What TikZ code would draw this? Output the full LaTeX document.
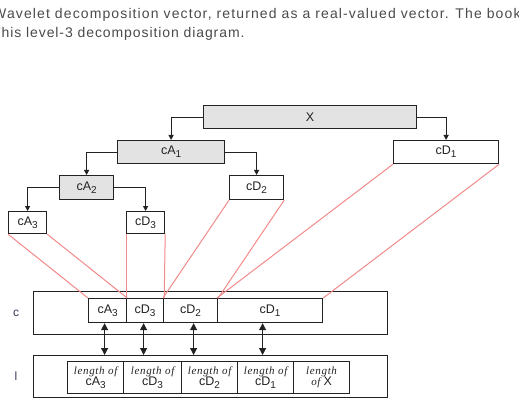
\documentclass[tikz,border=0pt]{standalone}
\usepackage{fontspec}
\setmainfont{Liberation Sans}
\newfontfamily\lenfont[LetterSpace=6]{Liberation Serif}
\newfontfamily\hdrfont[LetterSpace=6.5]{Liberation Sans}
\newfontfamily\hdrfontw[LetterSpace=8]{Liberation Sans}
\usetikzlibrary{arrows.meta,calc}
\definecolor{hdr}{HTML}{4A4A4A}
\definecolor{ink}{HTML}{222222}
\definecolor{redl}{HTML}{F28A8A}
\definecolor{lab}{HTML}{3A3A5A}
\newcommand{\subx}[1]{\raisebox{-0.45ex}{\fontsize{10}{10}\selectfont #1}}
\tikzset{
  box/.style={draw=ink, line width=1.2pt, inner sep=0pt, anchor=north west, text=ink, font=\fontsize{12.5}{13}\selectfont},
  gbox/.style={box, fill=gray!22},
  conn/.style={draw=ink, line width=1.1pt, -{Triangle[length=5pt,width=5pt]}},
  dbl/.style={draw=ink, line width=1.1pt, {Triangle[length=7pt,width=7pt]}-{Triangle[length=7pt,width=7pt]}},
  redline/.style={draw=redl, line width=1pt},
  lenbox/.style={box, align=center, font=\fontsize{11}{12}\selectfont},
  hdrtext/.style={anchor=base west, inner sep=0pt, text=hdr, font=\hdrfont\fontsize{14}{16}\selectfont},
}
\newcommand{\lenlab}[1]{{\lenfont\itshape length of}\\[-1pt]{\fontsize{12.5}{13}\selectfont #1}}
\begin{document}
\begin{tikzpicture}[x=1pt,y=-1pt]
\useasboundingbox (0,0) rectangle (519,414);
% header text
\node[hdrtext, font=\hdrfontw\fontsize{14}{16}\selectfont] (h1) at (-7,19) {Wavelet decomposition vector, returned as a real-valued vector. The book};
\node[hdrtext] (h2) at (-8,38) {This level-3 decomposition diagram.};
% tree boxes
\node[gbox, minimum width=213pt, minimum height=23pt] (X) at (203,105) {X};
\node[gbox, minimum width=107pt, minimum height=23pt] (cA1) at (117,140) {cA\subx{1}};
\node[box, minimum width=105pt, minimum height=23pt] (cD1) at (393,140) {cD\subx{1}};
\node[gbox, minimum width=54pt, minimum height=24pt] (cA2) at (59,175) {cA\subx{2}};
\node[box, minimum width=54pt, minimum height=24pt] (cD2) at (229,175) {cD\subx{2}};
\node[box, minimum width=38pt, minimum height=22pt] (cA3) at (8,211) {cA\subx{3}};
\node[box, minimum width=38pt, minimum height=22pt] (cD3) at (126,211) {cD\subx{3}};
% tree connectors
\draw[conn] (X.west) -| (cA1.north);
\draw[conn] (X.east) -| (cD1.north);
\draw[conn] (cA1.west) -| (cA2.north);
\draw[conn] (cA1.east) -| (cD2.north);
\draw[conn] (cA2.west) -| (cA3.north);
\draw[conn] (cA2.east) -| (cD3.north);
% c vector
\node[box, minimum width=354pt, minimum height=43pt] (cout) at (33,291) {};
\node[box, minimum width=38pt, minimum height=24pt] (cA3c) at (88,298) {cA\subx{3}};
\node[box, minimum width=37pt, minimum height=24pt] (cD3c) at (126,298) {cD\subx{3}};
\node[box, minimum width=54pt, minimum height=24pt] (cD2c) at (163,298) {cD\subx{2}};
\node[box, minimum width=105pt, minimum height=24pt] (cD1c) at (217,298) {cD\subx{1}};
% red mapping lines
\draw[redline] (cA3.south west) -- (cA3c.north west);
\draw[redline] (cA3.south east) -- (cA3c.north east);
\draw[redline] (cD3.south west) -- (cD3c.north west);
\draw[redline] (cD3.south east) -- (cD3c.north east);
\draw[redline] (cD2.south west) -- (cD2c.north west);
\draw[redline] (cD2.south east) -- (cD2c.north east);
\draw[redline] (cD1.south west) -- (cD1c.north west);
\draw[redline] (cD1.south east) -- (cD1c.north east);
% l vector
\node[box, minimum width=354pt, minimum height=42pt] (lout) at (33,355) {};
\node[lenbox, minimum width=56pt, minimum height=32pt] (l1) at (67,361) {\lenlab{cA\subx{3}}};
\node[lenbox, minimum width=58pt, minimum height=32pt] (l2) at (123,361) {\lenlab{cD\subx{3}}};
\node[lenbox, minimum width=56pt, minimum height=32pt] (l3) at (181,361) {\lenlab{cD\subx{2}}};
\node[lenbox, minimum width=56pt, minimum height=32pt] (l4) at (237,361) {\lenlab{cD\subx{1}}};
\node[lenbox, minimum width=56pt, minimum height=32pt] (l5) at (293,361) {{\lenfont\itshape length}\\[-1pt]{\lenfont\itshape of} {\fontsize{12.5}{13}\selectfont X}};
% labels
\node[text=lab, font=\fontsize{12}{12}\selectfont] (clab) at (16,313) {c};
\node[text=lab, font=\fontsize{12}{12}\selectfont] (llab) at (16,376) {l};
% double arrows
\draw[dbl] ([xshift=-3pt]cA3c.south) -- ([xshift=-3pt]cA3c.south |- lout.north);
\draw[dbl] ([xshift=-1.5pt]cD3c.south) -- ([xshift=-1.5pt]cD3c.south |- lout.north);
\draw[dbl] ([xshift=3pt]cD2c.south) -- ([xshift=3pt]cD2c.south |- lout.north);
\draw[dbl] ([xshift=-7.5pt]cD1c.south) -- ([xshift=-7.5pt]cD1c.south |- lout.north);
\end{tikzpicture}
\end{document}
